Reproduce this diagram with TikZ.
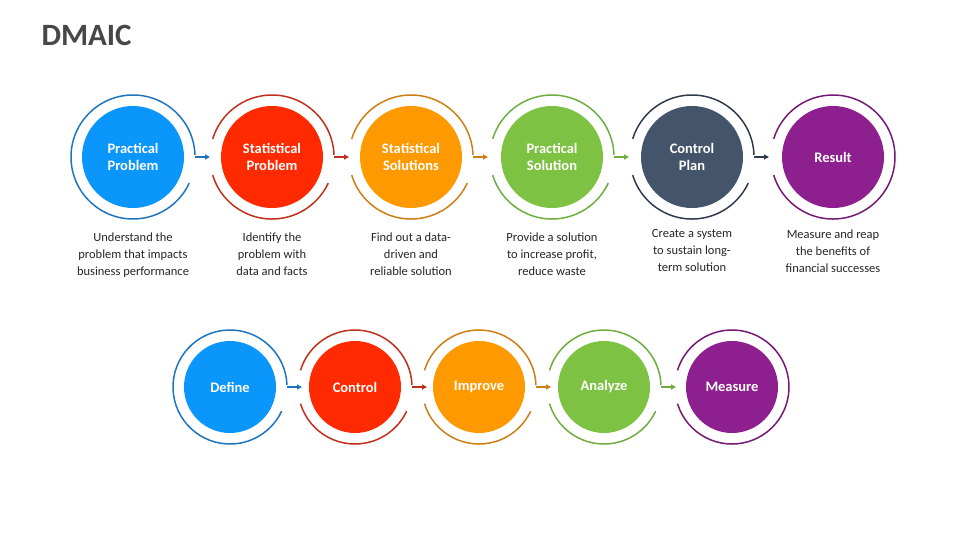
\documentclass[tikz,border=0pt]{standalone}
\usepackage{fontspec}
\setmainfont{Carlito}
\usetikzlibrary{arrows.meta}
\definecolor{cb}{HTML}{0A96FA}\definecolor{rb}{HTML}{1F74BE}
\definecolor{cr}{HTML}{FF2A00}\definecolor{rr}{HTML}{C0301C}
\definecolor{co}{HTML}{FF9900}\definecolor{ro}{HTML}{CC7F12}
\definecolor{cg}{HTML}{7DC242}\definecolor{rg}{HTML}{6EAD3E}
\definecolor{cs}{HTML}{44546A}\definecolor{rs}{HTML}{2F3B4C}
\definecolor{cp}{HTML}{8E1F8E}\definecolor{rp}{HTML}{741A74}
\definecolor{tx}{HTML}{262626}
\tikzset{x=1pt,y=1pt,
 inner/.style={circle,inner sep=0pt,align=center,text=white,font=\bfseries\fontsize{14.5}{17}\selectfont},
 desc/.style={anchor=north,align=center,text=tx,font=\fontsize{12.5}{17}\selectfont},
 ringline/.style={line width=1.5pt},
 arr/.style={line width=1.3pt,-{Triangle[length=5pt,width=5pt]}}}
% #1 name, #2 x, #3 y, #4 fill, #5 ring, #6 inner r, #7 outer r, #8 text, #9 leftgap(1/0)
\newcommand{\stage}[9]{%
 \node[inner,fill=#4,minimum size=2*#6] (#1) at (#2,#3) {#8};
 \ifnum#9=1
  \draw[ringline,#5] (#1.center) ++(2:#7) arc (2:163:#7);
  \draw[ringline,#5] (#1.center) ++(197:#7) arc (197:335:#7);
 \else
  \draw[ringline,#5] (#1.center) ++(2:#7) arc (2:335:#7);
 \fi
 \coordinate (#1o) at ($(#1.center)+(#7,0)$);
 \coordinate (#1t) at ($(#1.center)+(#7+15,0)$);
 \draw[arr,#5] (#1o) -- (#1t);
}
\usetikzlibrary{calc}
\begin{document}
\begin{tikzpicture}
\fill[white] (0,0) rectangle (960,-540);
\node[anchor=west,text=tx!85,font=\bfseries\fontsize{31}{36}\selectfont] (title) at (38,-35) {DMAIC};
\stage{a}{133}{-157}{cb}{rb}{51}{62}{Practical\\Problem}{0}
\stage{b}{272}{-157}{cr}{rr}{51}{62}{Statistical\\Problem}{1}
\stage{c}{411}{-157}{co}{ro}{51}{62}{Statistical\\Solutions}{1}
\stage{d}{552}{-157}{cg}{rg}{51}{62}{Practical\\Solution}{1}
\stage{e}{692}{-157}{cs}{rs}{51}{62}{Control\\Plan}{1}
\node[inner,fill=cp,minimum size=102pt] (f) at (833,-157) {Result};
\draw[ringline,rp] (f.center) ++(2:62) arc (2:163:62);
\draw[ringline,rp] (f.center) ++(197:62) arc (197:362:62);
\node[desc] (da) at (133,-229) {Understand the\\problem that impacts\\business performance};
\node[desc] (db) at (272,-229) {Identify the\\problem with\\data and facts};
\node[desc] (dc) at (411,-229) {Find out a data-\\driven and\\reliable solution};
\node[desc] (dd) at (552,-229) {Provide a solution\\to increase profit,\\reduce waste};
\node[desc] (de) at (692,-226) {Create a system\\to sustain long-\\term solution};
\node[desc] (df) at (833,-226) {Measure and reap\\the benefits of\\financial successes};
\stage{g}{230}{-387}{cb}{rb}{46}{57}{Define}{0}
\stage{h}{355}{-387}{cr}{rr}{46}{57}{Control}{1}
\stage{i}{479}{-387}{co}{ro}{46}{57}{Improve}{1}
\stage{j}{604}{-387}{cg}{rg}{46}{57}{Analyze}{1}
\node[inner,fill=cp,minimum size=92pt] (k) at (732,-387) {Measure};
\draw[ringline,rp] (k.center) ++(2:57) arc (2:163:57);
\draw[ringline,rp] (k.center) ++(197:57) arc (197:362:57);
\end{tikzpicture}
\end{document}
